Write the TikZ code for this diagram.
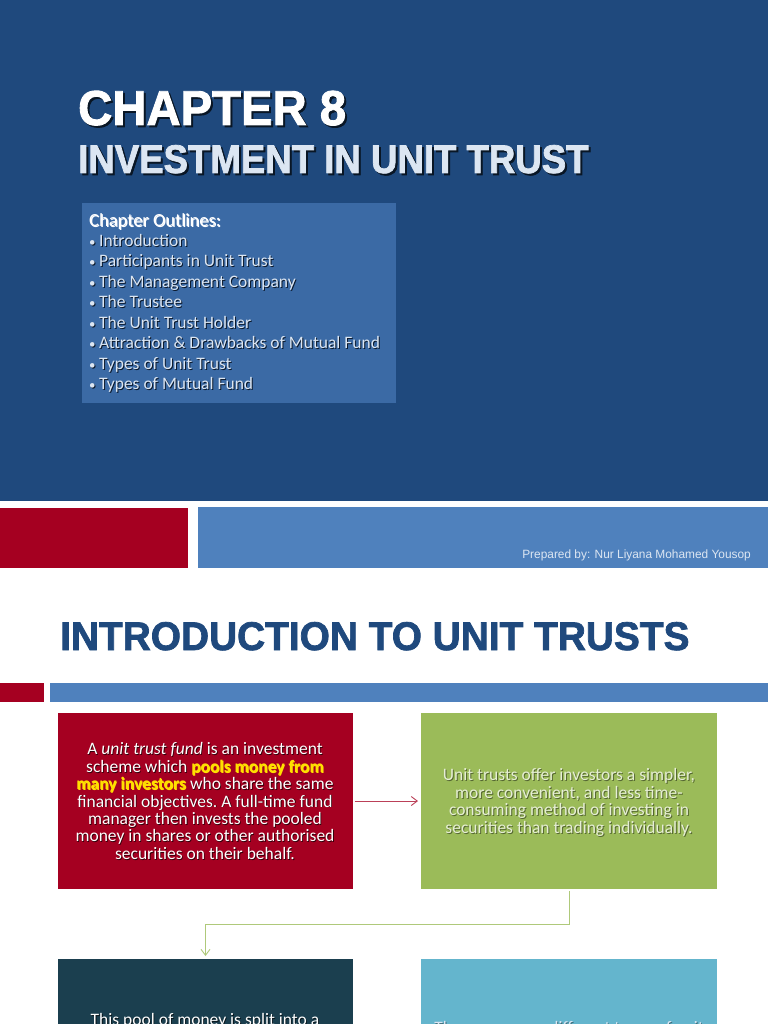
\documentclass[tikz,border=0pt]{standalone}
\usepackage{fontspec}
\setmainfont{Carlito}
\newfontfamily\chapfont[FakeBold=1.8,FakeStretch=0.965]{Liberation Sans Bold}
\newfontfamily\subfont[FakeBold=1.8,FakeStretch=0.915]{Liberation Sans Bold}
\newfontfamily\introfont[FakeBold=1.8,FakeStretch=0.971]{Liberation Sans Bold}
\newfontfamily\smallfont[FakeStretch=0.99]{Liberation Sans}
\definecolor{navy}{HTML}{1F497D}
\definecolor{outlinebg}{HTML}{3B6AA5}
\definecolor{crimson}{HTML}{A50021}
\definecolor{midblue}{HTML}{4F81BD}
\definecolor{leaf}{HTML}{9BBB59}
\definecolor{deepteal}{HTML}{1B3F4F}
\definecolor{skyteal}{HTML}{64B5CD}
\definecolor{paletext}{HTML}{DCE6F2}
\definecolor{leaftext}{HTML}{E6EED5}
\definecolor{hlc}{HTML}{FFE000}
\newcommand{\hl}[1]{\textcolor{hlc}{\bfseries #1}}
\newcommand{\bul}{{\fontsize{13}{13}\selectfont•}\hspace{3.5pt}}
% text with a drop shadow: name, style, position, text, shadow colour, offset
\newcommand{\shadowed}[6]{%
  \node[#2,text=#5,xshift=#6pt,yshift=-#6pt] (#1-sh) at #3 {\colorlet{hlc}{#5}#4};
  \node[#2] (#1) at #3 {#4};}
\usetikzlibrary{arrows.meta}
\tikzset{
  x=1pt,y=-1pt,
  panel/.style={anchor=north west,inner sep=0pt,outer sep=0pt,minimum width=#1},
  chaptertitle/.style={anchor=base west,inner sep=0pt,text=white,font=\chapfont\fontsize{49}{49}\selectfont},
  subtitle/.style={anchor=base west,inner sep=0pt,text=#1,font=\subfont\fontsize{40}{40}\selectfont},
  introtitle/.style={anchor=base west,inner sep=0pt,text=navy,font=\introfont\fontsize{40}{40}\selectfont},
  outlinetext/.style={anchor=north west,inner sep=0pt,align=left,text=paletext,font=\frenchspacing\fontsize{17.5}{20.45}\selectfont},
  bodytext/.style={inner sep=0pt,align=center,text=#1,font=\frenchspacing\fontsize{17.5}{17.4}\selectfont},
  link/.style={->,>={Straight Barb[length=6pt,width=9pt]},line width=0.9pt},
}
\begin{document}
\begin{tikzpicture}
\useasboundingbox (0,0) rectangle (768,1024);
\begin{scope}
\clip (0,0) rectangle (768,1024);
\fill[navy] (0,0) rectangle (768,501);
\node[panel=314pt,minimum height=200pt,fill=outlinebg] (outlinebox) at (82,203) {};
\fill[crimson] (0,508) rectangle (188,568);
\node[panel=570pt,minimum height=61pt,fill=midblue] (footband) at (198,507) {};
\fill[crimson] (0,683) rectangle (44,702);
\fill[midblue] (50,683) rectangle (768,702);

\shadowed{chap}{chaptertitle}{(78,125)}{CHAPTER 8}{black!70!navy}{2}
\shadowed{inv}{subtitle=paletext}{(78,173)}{INVESTMENT IN UNIT TRUST}{black!70!navy}{2}
\shadowed{outl}{outlinetext}{(89,213)}{{\fontsize{18.5}{20.45}\selectfont\color{white}Chapter Outlines:}\\
\bul Introduction\\
\bul Participants in Unit Trust\\
\bul The Management Company\\
\bul The Trustee\\
\bul The Unit Trust Holder\\
\bul Attraction \& Drawbacks of Mutual Fund\\
\bul Types of Unit Trust\\
\bul Types of Mutual Fund}{black!65!navy}{1}
\node[anchor=base east,inner sep=0pt,text=paletext,font=\smallfont\fontsize{12}{12}\selectfont] (prep) at (751,558) {Prepared by: Nur Liyana Mohamed Yousop};
\node[introtitle] (intro) at (60,650) {INTRODUCTION TO UNIT TRUSTS};

\node[panel=295pt,minimum height=176pt,fill=crimson] (a) at (58,713) {};
\node[panel=296pt,minimum height=176pt,fill=leaf] (b) at (421,713) {};
\node[panel=295pt,minimum height=90pt,fill=deepteal] (c) at (58,959) {};
\node[panel=296pt,minimum height=90pt,fill=skyteal] (d) at (421,959) {};

\shadowed{atext}{bodytext=white}{(205,801)}{A \textit{unit trust fund} is an investment\\
scheme which \hl{pools money from}\\
\hl{many investors} who share the same\\
financial objectives. A full-time fund\\
manager then invests the pooled\\
money in shares or other authorised\\
securities on their behalf.}{black!70!crimson}{0.8}
\shadowed{btext}{bodytext=leaftext}{(569,802.5)}{Unit trusts offer investors a simpler,\\
more convenient, and less time-\\
consuming method of investing in\\
securities than trading individually.}{black!45!leaf}{1}
\shadowed{ctext}{bodytext=white,anchor=north}{(205,1013)}{This pool of money is split into a}{black!70!deepteal}{0.8}
\shadowed{dtext}{bodytext=paletext,anchor=north}{(569,1021)}{There are many different types of unit}{black!40!skyteal}{1}

\draw[link,crimson!75!white] ([xshift=1.5pt]a.east) -- ([xshift=-3pt]b.west);
\coordinate (elbow) at (569,924);
\draw[link,leaf!80!white] ([yshift=-2pt]b.south) |- (elbow) -| ([yshift=3pt]c.north);
\end{scope}
\end{tikzpicture}
\end{document}
